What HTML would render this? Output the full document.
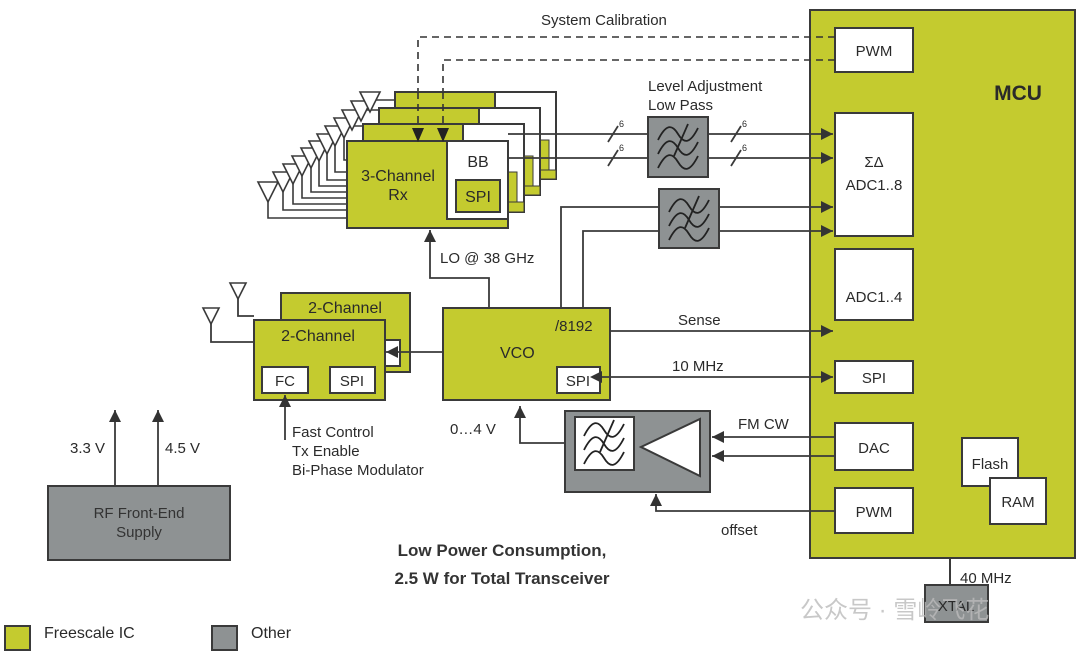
<!DOCTYPE html>
<html><head><meta charset="utf-8"><style>
html,body{margin:0;padding:0;background:#fff}
svg{display:block;font-family:"Liberation Sans",Arial,sans-serif}
</style></head><body>
<svg width="1080" height="653" viewBox="0 0 1080 653" xmlns="http://www.w3.org/2000/svg">
<defs>
<marker id="a" viewBox="0 0 10 10" refX="10" refY="5" markerWidth="12" markerHeight="12" markerUnits="userSpaceOnUse" orient="auto"><path d="M0,0L10,5L0,10z" fill="#333"/></marker>
<marker id="as" viewBox="0 0 10 10" refX="0" refY="5" markerWidth="12" markerHeight="12" markerUnits="userSpaceOnUse" orient="auto-start-reverse"><path d="M0,0L10,5L0,10z" fill="#333"/></marker>
<g id="flt" fill="none" stroke="#222" stroke-width="1.8">
<path d="M4,22 C12,6 18,6 24,16 S36,26 44,10"/>
<path d="M4,36 C12,20 18,20 24,30 S36,40 44,24"/>
<path d="M4,50 C12,34 18,34 24,44 S36,54 44,38"/>
<path d="M20,38 L34,6"/>
</g>
</defs>
<g stroke="#3a3a3a" stroke-width="2">
<rect x="810" y="10" width="265" height="548" fill="#c4cb2f"/>
<rect x="835" y="28" width="78" height="44" fill="#fff"/>
<rect x="835" y="113" width="78" height="123" fill="#fff"/>
<rect x="835" y="249" width="78" height="71" fill="#fff"/>
<rect x="835" y="361" width="78" height="32" fill="#fff"/>
<rect x="835" y="423" width="78" height="47" fill="#fff"/>
<rect x="835" y="488" width="78" height="45" fill="#fff"/>
<rect x="962" y="438" width="56" height="48" fill="#fff"/>
<rect x="990" y="478" width="56" height="46" fill="#fff"/>
<rect x="925" y="585" width="63" height="37" fill="#8e9293"/>
<line x1="950" y1="558" x2="950" y2="585"/>
</g>
<g stroke="#333" stroke-width="1.6" fill="none" stroke-dasharray="7,5">
<path d="M835,37 H418 V128"/>
<path d="M835,60 H443 V128"/>
</g>
<g stroke="#3a3a3a" stroke-width="1.6" fill="none">
<path d="M268,182 V218 H347"/><path d="M258,182 L278,182 L268,202z" fill="#fff"/>
<path d="M283,172 V210 H347"/><path d="M273,172 L293,172 L283,192z" fill="#fff"/>
<path d="M293,164 V204 H347"/><path d="M283,164 L303,164 L293,184z" fill="#fff"/>
<path d="M302,156 V198 H347"/><path d="M292,156 L312,156 L302,176z" fill="#fff"/>
<path d="M311,148 V192 H347"/><path d="M301,148 L321,148 L311,168z" fill="#fff"/>
<path d="M319,141 V186 H347"/><path d="M309,141 L329,141 L319,161z" fill="#fff"/>
<path d="M327,134 V180 H347"/><path d="M317,134 L337,134 L327,154z" fill="#fff"/>
<path d="M335,126 V172 H347"/><path d="M325,126 L345,126 L335,146z" fill="#fff"/>
<path d="M344,118 V160 H347"/><path d="M334,118 L354,118 L344,138z" fill="#fff"/>
<path d="M352,110 V126 H362"/><path d="M342,110 L362,110 L352,130z" fill="#fff"/>
<path d="M361,101 V110 H379"/><path d="M351,101 L371,101 L361,121z" fill="#fff"/>
<path d="M370,92 V100 H395"/><path d="M360,92 L380,92 L370,112z" fill="#fff"/>
</g>
<g stroke="#3a3a3a" stroke-width="2">
<rect x="395" y="92" width="161" height="87" fill="#fff"/><rect x="395" y="92" width="100" height="20" fill="#c4cb2f"/>
<rect x="540" y="140" width="9" height="30" fill="#c4cb2f" stroke-width="1"/><rect x="508" y="170" width="48" height="9" fill="#c4cb2f" stroke-width="1"/>
<rect x="379" y="108" width="161" height="87" fill="#fff"/><rect x="379" y="108" width="100" height="20" fill="#c4cb2f"/>
<rect x="524" y="156" width="9" height="30" fill="#c4cb2f" stroke-width="1"/><rect x="492" y="186" width="48" height="9" fill="#c4cb2f" stroke-width="1"/>
<rect x="363" y="124" width="161" height="88" fill="#fff"/><rect x="363" y="124" width="100" height="20" fill="#c4cb2f"/>
<rect x="508" y="172" width="9" height="30" fill="#c4cb2f" stroke-width="1"/><rect x="476" y="202" width="48" height="10" fill="#c4cb2f" stroke-width="1"/>
<rect x="347" y="141" width="161" height="87" fill="#c4cb2f"/>
<rect x="447" y="141" width="61" height="78" fill="#fff"/>
<rect x="456" y="180" width="44" height="32" fill="#c4cb2f"/>
</g>
<g stroke="#333" stroke-width="1.6" stroke-dasharray="7,5">
<line x1="418" y1="92" x2="418" y2="130"/><line x1="443" y1="92" x2="443" y2="130"/>
</g>
<path d="M412,128 L424,128 L418,142z M437,128 L449,128 L443,142z" fill="#222"/>
<g stroke="#3a3a3a" stroke-width="2">
<rect x="648" y="117" width="60" height="60" fill="#8e9293"/>
<rect x="659" y="189" width="60" height="59" fill="#8e9293"/>
</g>
<use href="#flt" x="654" y="118"/>
<use href="#flt" x="665" y="190"/>
<g stroke="#3a3a3a" stroke-width="2">
<rect x="443" y="308" width="167" height="92" fill="#c4cb2f"/>
<rect x="557" y="367" width="43" height="26" fill="#fff"/>
<rect x="281" y="293" width="129" height="79" fill="#c4cb2f"/>
<rect x="254" y="320" width="131" height="80" fill="#c4cb2f"/>
<rect x="385" y="340" width="15" height="26" fill="#fff"/>
<rect x="262" y="367" width="46" height="26" fill="#fff"/>
<rect x="330" y="367" width="45" height="26" fill="#fff"/>
<rect x="565" y="411" width="145" height="81" fill="#8e9293"/>
<rect x="575" y="417" width="59" height="53" fill="#fff"/>
<path d="M700,419 L700,476 L641,447z" fill="#fff"/>
<rect x="48" y="486" width="182" height="74" fill="#8e9293"/>
<rect x="5" y="626" width="25" height="24" fill="#c4cb2f"/>
<rect x="212" y="626" width="25" height="24" fill="#8e9293"/>
</g>
<use href="#flt" x="580" y="414"/>
<g stroke="#3a3a3a" stroke-width="1.8" fill="none">
<line x1="508" y1="134" x2="648" y2="134"/><line x1="508" y1="158" x2="648" y2="158"/>
<line x1="708" y1="134" x2="833" y2="134" marker-end="url(#a)"/><line x1="708" y1="158" x2="833" y2="158" marker-end="url(#a)"/>
<path d="M561,307 V207 H659"/><path d="M583,307 V231 H659"/>
<line x1="719" y1="207" x2="833" y2="207" marker-end="url(#a)"/><line x1="719" y1="231" x2="833" y2="231" marker-end="url(#a)"/>
<line x1="608" y1="142" x2="618" y2="126"/><line x1="608" y1="166" x2="618" y2="150"/>
<line x1="731" y1="142" x2="741" y2="126"/><line x1="731" y1="166" x2="741" y2="150"/>
<path d="M489,307 V278 H430 V230" marker-end="url(#a)"/>
<line x1="610" y1="331" x2="833" y2="331" marker-end="url(#a)"/>
<line x1="602" y1="377" x2="833" y2="377" marker-start="url(#as)" marker-end="url(#a)"/>
<line x1="443" y1="352" x2="386" y2="352" marker-end="url(#a)"/>
<line x1="285" y1="440" x2="285" y2="395" marker-end="url(#a)"/>
<path d="M238,283 V316 H254"/><path d="M211,308 V342 H254"/>
<path d="M565,443 H520 V406" marker-end="url(#a)"/>
<line x1="835" y1="437" x2="712" y2="437" marker-end="url(#a)"/>
<line x1="835" y1="456" x2="712" y2="456" marker-end="url(#a)"/>
<path d="M835,511 H656 V494" marker-end="url(#a)"/>
<line x1="115" y1="486" x2="115" y2="410" marker-end="url(#a)"/>
<line x1="158" y1="486" x2="158" y2="410" marker-end="url(#a)"/>
</g>
<path d="M230,283 L246,283 L238,299z M203,308 L219,308 L211,324z" fill="#fff" stroke="#3a3a3a" stroke-width="1.6"/>
<g fill="#2a2a2a" font-size="15">
<text x="541" y="25">System Calibration</text>
<text x="648" y="91">Level Adjustment</text>
<text x="648" y="110">Low Pass</text>
<text x="1018" y="100" font-size="21" font-weight="bold" text-anchor="middle">MCU</text>
<text x="874" y="56" text-anchor="middle">PWM</text>
<text x="874" y="167" text-anchor="middle">ΣΔ</text>
<text x="874" y="190" text-anchor="middle">ADC1..8</text>
<text x="874" y="302" text-anchor="middle">ADC1..4</text>
<text x="874" y="383" text-anchor="middle">SPI</text>
<text x="874" y="453" text-anchor="middle">DAC</text>
<text x="874" y="517" text-anchor="middle">PWM</text>
<text x="990" y="469" text-anchor="middle">Flash</text>
<text x="1018" y="507" text-anchor="middle">RAM</text>
<text x="956" y="611" text-anchor="middle">XTAL</text>
<text x="960" y="583">40 MHz</text>
<text x="398" y="181" text-anchor="middle" font-size="16">3-Channel</text>
<text x="398" y="200" text-anchor="middle" font-size="16">Rx</text>
<text x="478" y="167" text-anchor="middle" font-size="16">BB</text>
<text x="478" y="202" text-anchor="middle" font-size="16">SPI</text>
<text x="440" y="263">LO @ 38 GHz</text>
<text x="678" y="325">Sense</text>
<text x="672" y="371">10 MHz</text>
<text x="738" y="429">FM CW</text>
<text x="721" y="535">offset</text>
<text x="500" y="358" font-size="16">VCO</text>
<text x="555" y="331">/8192</text>
<text x="578" y="386" text-anchor="middle">SPI</text>
<text x="345" y="313" text-anchor="middle" font-size="16">2-Channel</text>
<text x="318" y="341" text-anchor="middle" font-size="16">2-Channel</text>
<text x="285" y="386" text-anchor="middle">FC</text>
<text x="352" y="386" text-anchor="middle">SPI</text>
<text x="292" y="437">Fast Control</text>
<text x="292" y="456">Tx Enable</text>
<text x="292" y="475">Bi-Phase Modulator</text>
<text x="450" y="434">0…4 V</text>
<text x="70" y="453">3.3 V</text>
<text x="165" y="453">4.5 V</text>
<text x="139" y="518" text-anchor="middle" fill="#333">RF Front-End</text>
<text x="139" y="537" text-anchor="middle" fill="#333">Supply</text>
<text x="502" y="556" font-size="17" font-weight="bold" text-anchor="middle" fill="#333">Low Power Consumption,</text>
<text x="502" y="584" font-size="17" font-weight="bold" text-anchor="middle" fill="#333">2.5 W for Total Transceiver</text>
<text x="44" y="638" font-size="16">Freescale IC</text>
<text x="251" y="638" font-size="16">Other</text>
<text x="619" y="127" font-size="9">6</text><text x="619" y="151" font-size="9">6</text>
<text x="742" y="127" font-size="9">6</text><text x="742" y="151" font-size="9">6</text>
</g>
<text x="800" y="618" font-family="'Liberation Sans','Noto Sans CJK SC',sans-serif" font-size="24" fill="#bbb" opacity="0.8">公众号 · 雪岭飞花</text>
</svg>
</body></html>
